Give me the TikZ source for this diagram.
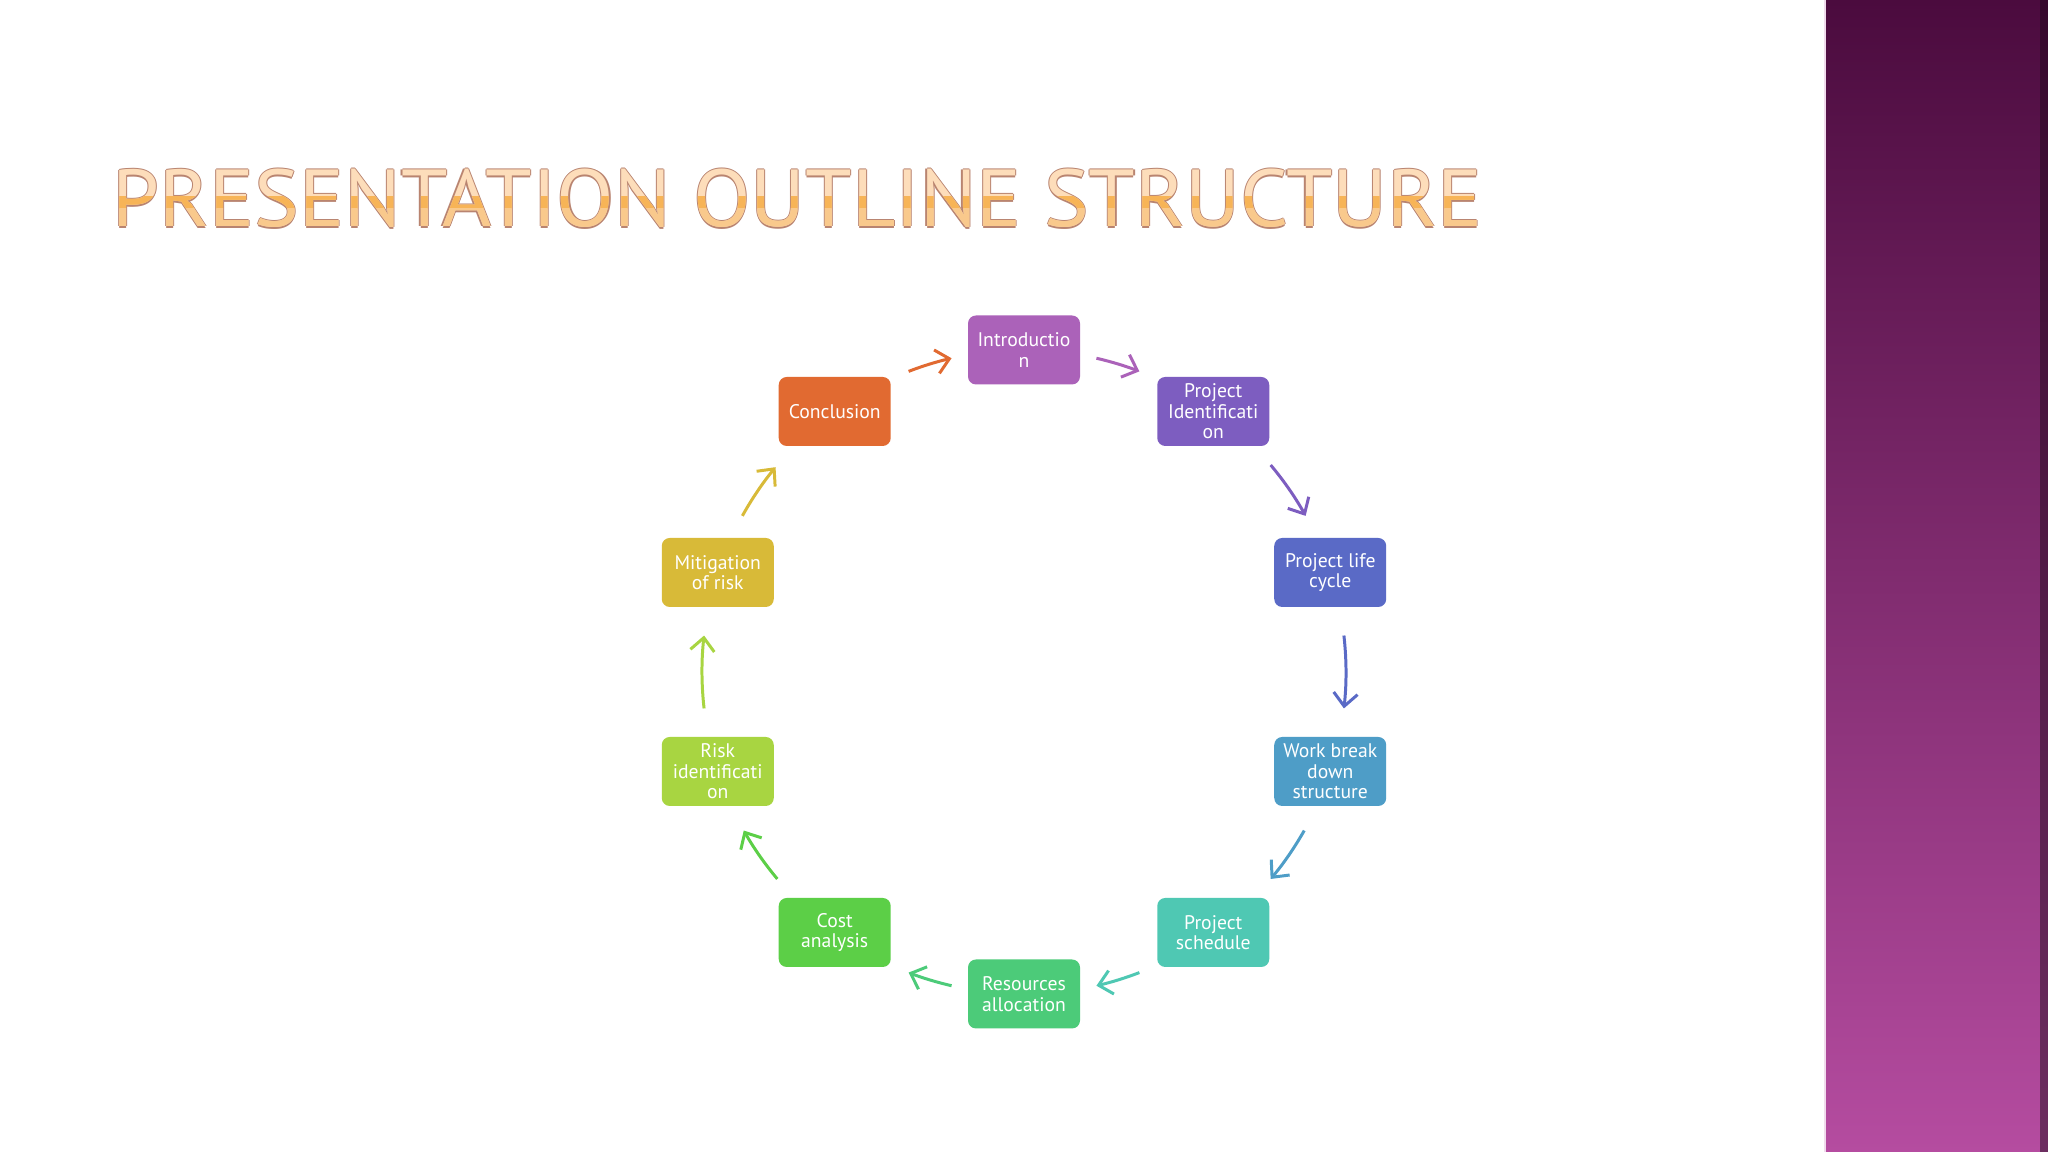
\documentclass[tikz,border=0pt]{standalone}
\usepackage{fontspec}
\setmainfont{PT Sans}
\usepackage{tikz}
\usetikzlibrary{arrows.meta,calc}
\definecolor{MoradoIntro}{HTML}{AB62B9}
\definecolor{VioletaIdent}{HTML}{7D5DC0}
\definecolor{AzulCiclo}{HTML}{5A6AC6}
\definecolor{CelesteEDT}{HTML}{4E9DC7}
\definecolor{TurquesaCrono}{HTML}{4FC8B3}
\definecolor{VerdeRecursos}{HTML}{4CCB79}
\definecolor{VerdeCostos}{HTML}{5CCF47}
\definecolor{LimaRiesgo}{HTML}{A8D541}
\definecolor{MostazaMitig}{HTML}{D8BA38}
\definecolor{NaranjaConcl}{HTML}{E16A31}
\definecolor{CirueloArriba}{HTML}{4B0B3E}
\definecolor{CirueloAbajo}{HTML}{B54CA0}
\definecolor{BordeOscuro}{HTML}{35082C}
\definecolor{MelocotonClaro}{HTML}{FDDDBA}
\definecolor{NaranjaTitulo}{HTML}{F7B457}
\definecolor{NaranjaSuave}{HTML}{F9C98C}
\definecolor{ContornoTitulo}{HTML}{B98470}
\newcommand\TituloTexto{\scalebox{1.04}[1]{PRESENTATION OUTLINE STRUCTURE}}

\begin{document}
\begin{tikzpicture}[>=Latex,
  caja/.style={rounded corners=0.08cm,minimum width=1.12cm,minimum height=0.69cm,
    inner sep=0pt,text=white,align=center,font=\fontsize{5.6}{5.8}\selectfont},
  flecha/.style={line width=0.85pt,-{Straight Barb[length=1.3mm,width=2.4mm]}},
  titulo/.style={anchor=base west,inner sep=0pt,font=\fontsize{23}{28}\selectfont}]
  \useasboundingbox (0,0) rectangle (20.48,11.52);
  \fill[white] (0,0) rectangle (18.25,11.52);
  % banda lateral
  \shade[top color=CirueloArriba,bottom color=CirueloAbajo] (18.25,0) rectangle (20.48,11.52);
  \shade[top color=BordeOscuro,bottom color=CirueloAbajo!60!black] (20.40,0) rectangle (20.48,11.52);
  \draw[white!80!CirueloAbajo,line width=0.6pt] (18.25,0)--(18.25,11.52);

  % titulo con contorno y degradado por franjas
  \foreach \dx/\dy [count=\k] in {0.012/0,-0.012/0,0/0.012,0/-0.012}
    \node[titulo,text=ContornoTitulo] (contorno\k) at (1.12+\dx,9.25+\dy) {\TituloTexto};
  \node[titulo,text=MelocotonClaro] (titulo) at (1.12,9.25) {\TituloTexto};
  \begin{scope}
    \clip (0,9.43) rectangle (16,9.55);
    \node[titulo,text=NaranjaTitulo] (titulomedio) at (1.12,9.25) {\TituloTexto};
  \end{scope}
  \begin{scope}
    \clip (0,9.0) rectangle (16,9.43);
    \node[titulo,text=NaranjaSuave] (tituloinferior) at (1.12,9.25) {\TituloTexto};
  \end{scope}

  % ciclo
  \coordinate (O) at (10.24,4.80);
  \node[caja,fill=MoradoIntro] (intro) at ($(O)+(90:3.22)$) {Introductio\\n};
  \node[caja,fill=VioletaIdent] (ident) at ($(O)+(54:3.22)$) {Project\\Identificati\\on};
  \node[caja,fill=AzulCiclo] (ciclo) at ($(O)+(18:3.22)$) {Project life\\cycle};
  \node[caja,fill=CelesteEDT] (edt) at ($(O)+(-18:3.22)$) {Work break\\down\\structure};
  \node[caja,fill=TurquesaCrono] (crono) at ($(O)+(-54:3.22)$) {Project\\schedule};
  \node[caja,fill=VerdeRecursos] (recursos) at ($(O)+(-90:3.22)$) {Resources\\allocation};
  \node[caja,fill=VerdeCostos] (costos) at ($(O)+(-126:3.22)$) {Cost\\analysis};
  \node[caja,fill=LimaRiesgo] (riesgo) at ($(O)+(-162:3.22)$) {Risk\\identificati\\on};
  \node[caja,fill=MostazaMitig] (mitig) at ($(O)+(162:3.22)$) {Mitigation\\of risk};
  \node[caja,fill=NaranjaConcl] (concl) at ($(O)+(126:3.22)$) {Conclusion};

  % flechas sobre el circulo
  \draw[flecha,NaranjaConcl] ($(O)+(111:3.22)$) arc[start angle=111,end angle=103,radius=3.22];
  \draw[flecha,MoradoIntro] ($(O)+(77:3.22)$) arc[start angle=77,end angle=69,radius=3.22];
  \draw[flecha,VioletaIdent] ($(O)+(40:3.22)$) arc[start angle=40,end angle=29,radius=3.22];
  \draw[flecha,AzulCiclo] ($(O)+(6.5:3.22)$) arc[start angle=6.5,end angle=-6.5,radius=3.22];
  \draw[flecha,CelesteEDT] ($(O)+(-29.5:3.22)$) arc[start angle=-29.5,end angle=-40,radius=3.22];
  \draw[flecha,TurquesaCrono] ($(O)+(-69:3.22)$) arc[start angle=-69,end angle=-77,radius=3.22];
  \draw[flecha,VerdeRecursos] ($(O)+(-103:3.22)$) arc[start angle=-103,end angle=-111,radius=3.22];
  \draw[flecha,VerdeCostos] ($(O)+(-140:3.22)$) arc[start angle=-140,end angle=-150.5,radius=3.22];
  \draw[flecha,LimaRiesgo] ($(O)+(186.5:3.22)$) arc[start angle=186.5,end angle=173.5,radius=3.22];
  \draw[flecha,MostazaMitig] ($(O)+(151:3.22)$) arc[start angle=151,end angle=140.5,radius=3.22];
\end{tikzpicture}
\end{document}
